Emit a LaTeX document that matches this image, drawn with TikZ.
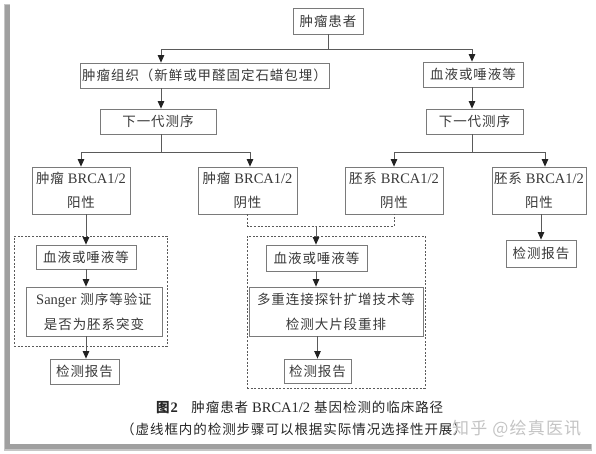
\documentclass[tikz,border=0pt]{standalone}
\usepackage{fontspec}
\setmainfont{Noto Sans CJK SC}[LetterSpace=7]
\newfontfamily\latinfont{Liberation Serif}[Scale=1.074]
\newcommand\lat[1]{{\latinfont #1}}
\usetikzlibrary{arrows.meta}
\definecolor{boxc}{HTML}{7A7A7A}
\definecolor{linec}{HTML}{5A5A5A}
\definecolor{txtc}{HTML}{3A3A3A}
\definecolor{capc}{HTML}{262626}
\definecolor{tipc}{HTML}{222222}
\definecolor{wmc}{HTML}{C4C4C4}
\definecolor{shadowc}{HTML}{A0A0A0}
\begin{document}
\begin{tikzpicture}[x=1pt,y=-1pt,
  bx/.style={draw=boxc, line width=0.8pt, inner sep=0pt, text=txtc, align=center, font=\fontsize{13.5}{24}\selectfont},
  dbox/.style={draw=linec, line width=0.6pt, dash pattern=on 2pt off 1.6pt, inner sep=0pt},
  arr/.style={draw=linec, line width=0.8pt, -{Triangle[length=7.5pt,width=6.5pt,color=tipc]}},
  ln/.style={draw=linec, line width=0.8pt},
  dsh/.style={draw=linec, line width=0.6pt, dash pattern=on 2pt off 1.6pt},
  captext/.style={text=capc, inner sep=0pt, anchor=west, font=\fontsize{13.5}{16}\selectfont}]
% page and shadow
\fill[white] (0,0) rectangle (596,454);
\fill[shadowc!60] (4,4) rectangle (592,451);
\fill[shadowc] (5,5) rectangle (591,449);
\fill[white] (10,2) rectangle (593,444);
\useasboundingbox (0,0) rectangle (596,454);

% dashed groups
\node[dbox, minimum width=153pt, minimum height=110pt] (dl) at (90.5,291) {};
\node[dbox, minimum width=178pt, minimum height=152pt] (dm) at (336,312) {};

% boxes
\node[bx, minimum width=70pt, minimum height=26pt] (top) at (328,21) {肿瘤患者};
\node[bx, minimum width=249pt, minimum height=25pt] (tissue) at (204.5,75.5) {肿瘤组织（新鲜或甲醛固定石蜡包埋）};
\node[bx, minimum width=100pt, minimum height=25pt] (blood1) at (473,74.5) {血液或唾液等};
\node[bx, minimum width=116pt, minimum height=25pt] (ngs1) at (158,121.5) {下一代测序};
\node[bx, minimum width=97pt, minimum height=25pt] (ngs2) at (474.5,121.5) {下一代测序};
\node[bx, minimum width=98pt, minimum height=47pt] (tpos) at (81,190.5) {肿瘤 \lat{BRCA1/2}\\阳性};
\node[bx, minimum width=99pt, minimum height=47pt] (tneg) at (247.5,190.5) {肿瘤 \lat{BRCA1/2}\\阴性};
\node[bx, minimum width=98pt, minimum height=47pt] (gneg) at (394,190.5) {胚系 \lat{BRCA1/2}\\阴性};
\node[bx, minimum width=94pt, minimum height=47pt] (gpos) at (539,190.5) {胚系 \lat{BRCA1/2}\\阳性};
\node[bx, minimum width=70pt, minimum height=27pt] (repR) at (541,253.5) {检测报告};
\node[bx, minimum width=100pt, minimum height=24pt] (bloodL) at (86,257) {血液或唾液等};
\node[bx, minimum width=136pt, minimum height=49pt, font=\fontsize{13.5}{25}\selectfont] (sanger) at (94,311.5) {\lat{Sanger} 测序等验证\\是否为胚系突变};
\node[bx, minimum width=69pt, minimum height=25pt] (repL) at (84.5,371.5) {检测报告};
\node[bx, minimum width=101pt, minimum height=26pt] (bloodM) at (316.5,258) {血液或唾液等};
\node[bx, minimum width=174pt, minimum height=49pt, font=\fontsize{13.5}{25}\selectfont] (mlpa) at (336,311.5) {多重连接探针扩增技术等\\检测大片段重排};
\node[bx, minimum width=67pt, minimum height=24pt] (repM) at (317.5,371) {检测报告};

% connectors: level 1
\coordinate (b1) at (328,49);
\coordinate (aL1) at (161,49);
\coordinate (aR1) at (472,49);
\draw[ln] (top.south) -- (b1);
\draw[arr] (b1) -- (aL1) -- (aL1 |- tissue.north);
\draw[arr] (b1) -- (aR1) -- (aR1 |- blood1.north);
\draw[arr] (aL1 |- tissue.south) -- (aL1 |- ngs1.north);
\draw[arr] (aR1 |- blood1.south) -- (aR1 |- ngs2.north);

% level 2
\coordinate (b2) at (161,152);
\coordinate (xt) at (250,152);
\draw[ln] (b2 |- ngs1.south) -- (b2);
\draw[arr] (b2) -| (tpos.north);
\draw[arr] (b2) -- (xt) -- (xt |- tneg.north);
\coordinate (b3) at (472,152);
\coordinate (xg) at (545,152);
\draw[ln] (b3 |- ngs2.south) -- (b3);
\draw[arr] (b3) -| (gneg.north);
\draw[arr] (b3) -- (xg) -- (xg |- gpos.north);

% left branch
\coordinate (xl) at (86,0);
\draw[arr] (xl |- tpos.south) -- (xl |- bloodL.north);
\draw[arr] (xl |- bloodL.south) -- (xl |- sanger.north);
\draw[arr] (xl |- sanger.south) -- (xl |- repL.north);

% middle branch
\coordinate (dj) at (316,226);
\draw[dsh] (tneg.south) |- (dj) -| (gneg.south);
\draw[arr] (dj) -- (dj |- bloodM.north);
\draw[arr] (dj |- bloodM.south) -- (dj |- mlpa.north);
\draw[arr] (repM.north |- mlpa.south) -- (repM.north);

% right branch
\draw[arr] (repR.north |- gpos.south) -- (repR.north);

% caption
\node[captext] (cap1) at (156,407) {\textbf{图}\lat{\bfseries 2}\hspace{1em}肿瘤患者 \lat{BRCA1/2} 基因检测的临床路径};
\node[captext] (cap2) at (121,429) {（虚线框内的检测步骤可以根据实际情况选择性开展）};
\node[captext, text=wmc, font=\fontsize{17}{18}\selectfont] (wm) at (452,429) {知乎 @绘真医讯};
\end{tikzpicture}
\end{document}
